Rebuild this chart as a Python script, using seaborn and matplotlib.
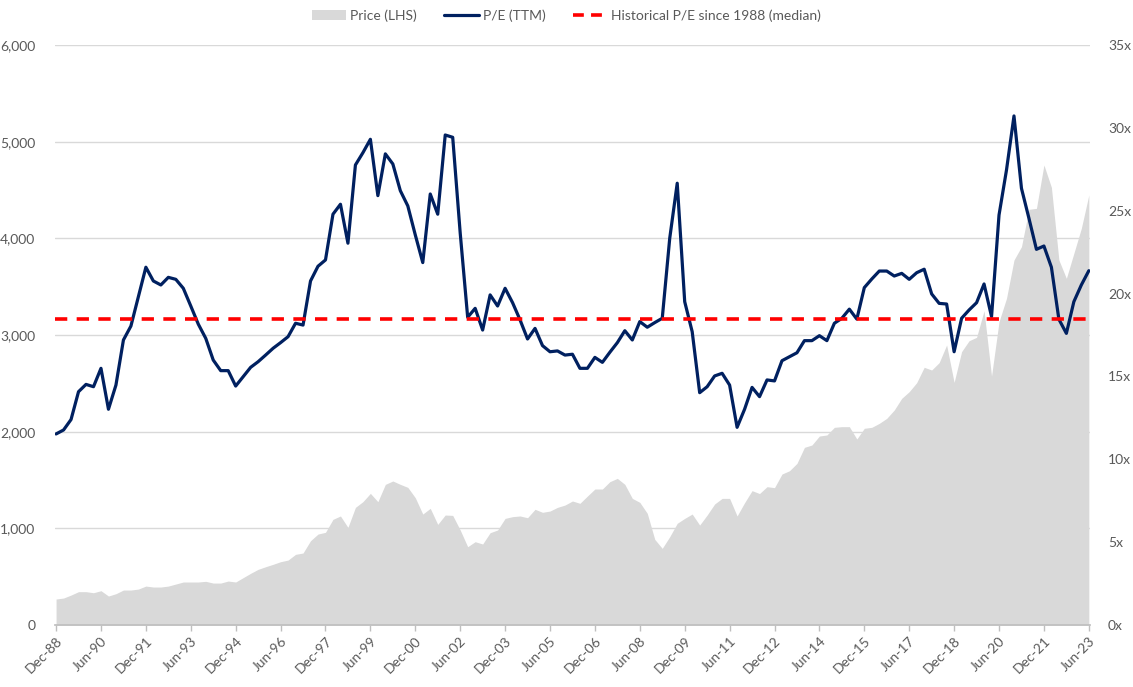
import numpy as np
import pandas as pd
import seaborn as sns
import matplotlib.pyplot as plt
from matplotlib.patches import Patch
from matplotlib.lines import Line2D

# quarterly data, Dec-88 .. Jun-23
price = [269, 279, 310, 345, 345, 334, 355, 300, 324, 362, 362, 372, 403, 393, 393, 403,
         424, 445, 445, 445, 452, 434, 434, 455, 445, 490, 535, 576, 603, 628, 655, 672,
         731, 745, 872, 941, 959, 1093, 1128, 1010, 1217, 1276, 1362, 1276, 1455, 1490, 1455, 1424,
         1317, 1148, 1207, 1041, 1138, 1134, 983, 810, 862, 838, 955, 983, 1103, 1121, 1128, 1110,
         1197, 1166, 1179, 1217, 1241, 1283, 1259, 1334, 1407, 1407, 1483, 1517, 1455, 1310, 1269, 1155,
         886, 793, 914, 1052, 1103, 1148, 1034, 1138, 1252, 1310, 1310, 1128, 1265, 1390, 1360, 1431,
         1421, 1562, 1596, 1672, 1838, 1862, 1955, 1966, 2045, 2052, 2052, 1924, 2035, 2045, 2086, 2138,
         2224, 2345, 2414, 2507, 2666, 2638, 2714, 2897, 2510, 2828, 2941, 2976, 3252, 2576, 3138, 3380,
         3776, 3914, 4300, 4310, 4759, 4528, 3776, 3586, 3845, 4104, 4448]

pe = [11.53, 11.77, 12.4, 14.08, 14.52, 14.38, 15.49, 13.02, 14.48, 17.2, 18.04, 19.81, 21.59, 20.76, 20.52, 20.98,
      20.86, 20.32, 19.25, 18.16, 17.3, 15.99, 15.35, 15.35, 14.42, 14.99, 15.55, 15.89, 16.29, 16.7, 17.04, 17.4,
      18.21, 18.1, 20.76, 21.65, 22.03, 24.79, 25.39, 23.04, 27.76, 28.5, 29.31, 25.91, 28.43, 27.82, 26.21, 25.29,
      23.54, 21.87, 26.01, 24.79, 29.57, 29.43, 23.66, 18.57, 19.11, 17.8, 19.92, 19.25, 20.32, 19.45, 18.41, 17.26,
      17.9, 16.86, 16.49, 16.54, 16.29, 16.34, 15.49, 15.49, 16.15, 15.85, 16.46, 17.04, 17.76, 17.2, 18.31, 17.97,
      18.25, 18.51, 23.34, 26.66, 19.51, 17.7, 14.02, 14.38, 15.03, 15.19, 14.48, 11.93, 13.02, 14.34, 13.78, 14.79,
      14.73, 15.95, 16.19, 16.43, 17.16, 17.16, 17.46, 17.16, 18.21, 18.51, 19.06, 18.46, 20.36, 20.88, 21.36, 21.36,
      21.06, 21.22, 20.86, 21.26, 21.47, 19.98, 19.41, 19.37, 16.49, 18.51, 19.01, 19.45, 20.58, 18.61, 24.74, 27.46,
      30.72, 26.35, 24.54, 22.67, 22.87, 21.59, 18.45, 17.6, 19.51, 20.52, 21.38]

pe_median = 18.45

tick_labels = ['Dec-88', 'Jun-90', 'Dec-91', 'Jun-93', 'Dec-94', 'Jun-96', 'Dec-97', 'Jun-99',
               'Dec-00', 'Jun-02', 'Dec-03', 'Jun-05', 'Dec-06', 'Jun-08', 'Dec-09', 'Jun-11',
               'Dec-12', 'Jun-14', 'Dec-15', 'Jun-17', 'Dec-18', 'Jun-20', 'Dec-21', 'Jun-23']

df = pd.DataFrame({'q': np.arange(len(price)), 'price': price, 'pe': pe})

sns.set_theme(style='white')
plt.rcParams['font.family'] = ['Lato', 'DejaVu Sans']

txt = '#595959'
grey = '#D9D9D9'
navy = '#002060'

fig = plt.figure(figsize=(11.33, 6.87), dpi=100)
ax = fig.add_axes([0.0485, 0.0902, 0.9135, 0.8443])
ax2 = ax.twinx()

# area (LHS)
ax.fill_between(df['q'], df['price'], 0, color=grey, lw=0, zorder=1)
ax.set_ylim(0, 6000)
ax.set_yticks(range(0, 6001, 1000))
ax.set_yticklabels([f'{v:,}' for v in range(0, 6001, 1000)])
ax.yaxis.grid(True, color=grey, lw=1)
ax.set_axisbelow(True)

# P/E (RHS)
sns.lineplot(data=df, x='q', y='pe', ax=ax2, color=navy, lw=2.3, zorder=3)
ax2.axhline(pe_median, color='#FF0000', lw=2.6, dashes=(3.4, 2.6), zorder=4)
ax2.set_ylim(0, 35)
ax2.set_yticks(range(0, 36, 5))
ax2.set_yticklabels([f'{v}x' for v in range(0, 36, 5)])
ax2.set_ylabel('')
ax2.set_xlabel('')

ax.set_xlim(-0.15, len(price) - 1 + 0.15)
ax.set_xticks(np.arange(0, len(price), 6))
ax.set_xticklabels(tick_labels, rotation=45, ha='right', rotation_mode='anchor')
ax.set_xlabel('')

for a in (ax, ax2):
    for s in ['top', 'left', 'right', 'bottom']:
        a.spines[s].set_visible(False)
ax.spines['bottom'].set_visible(True)
ax.spines['bottom'].set_color('#BFBFBF')

ax.tick_params(axis='x', colors=txt, labelsize=10, length=4, width=1, color='#BFBFBF', pad=3, bottom=True)
ax.tick_params(axis='y', colors=txt, labelsize=10, length=0, pad=14)
ax2.tick_params(axis='y', colors=txt, labelsize=10, length=0, pad=13)

handles = [Patch(facecolor=grey, edgecolor='none', label='Price (LHS)'),
           Line2D([], [], color=navy, lw=2.3, label='P/E (TTM)'),
           Line2D([], [], color='#FF0000', lw=2.6, dashes=(3.0, 2.0), label='Historical P/E since 1988 (median)')]
fig.legend(handles=handles, loc='upper center', bbox_to_anchor=(0.5, 1.005), ncol=3, frameon=False,
           fontsize=10, labelcolor=txt, handlelength=2.5, columnspacing=2.0, handletextpad=0.25)

plt.savefig('out.png', dpi=100)
plt.close()
